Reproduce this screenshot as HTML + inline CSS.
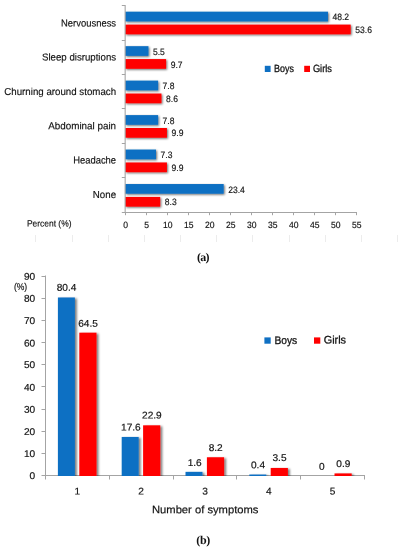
<!DOCTYPE html>
<html lang="en"><head><meta charset="utf-8"><title>Symptoms charts</title>
<style>
html,body{margin:0;padding:0;background:#fff;}
body{width:403px;height:550px;overflow:hidden;}
svg{display:block;font-family:"Liberation Sans",sans-serif;text-rendering:geometricPrecision;}
</style></head><body>
<svg width="403" height="550" viewBox="0 0 403 550">
<defs>
<filter id="sh" x="-5%" y="-30%" width="110%" height="160%"><feGaussianBlur in="SourceAlpha" stdDeviation="0.8"/><feOffset dx="1.2" dy="1.3"/><feComponentTransfer><feFuncA type="linear" slope="0.58"/></feComponentTransfer><feMerge><feMergeNode/><feMergeNode in="SourceGraphic"/></feMerge></filter>
<filter id="sh2" x="-5%" y="-5%" width="110%" height="110%"><feGaussianBlur in="SourceAlpha" stdDeviation="1.0"/><feOffset dx="1.8" dy="0.6"/><feComponentTransfer><feFuncA type="linear" slope="0.5"/></feComponentTransfer><feMerge><feMergeNode/><feMergeNode in="SourceGraphic"/></feMerge></filter>
<clipPath id="cb"><rect x="0" y="270" width="403" height="206"/></clipPath>
</defs>
<rect width="403" height="550" fill="#ffffff"/>
<g filter="url(#sh)">
<rect x="125.30" y="11.70" width="202.68" height="9.70" fill="#0f70c3" />
<rect x="125.30" y="24.60" width="225.39" height="9.70" fill="#ff0000" />
<rect x="125.30" y="46.17" width="23.13" height="9.70" fill="#0f70c3" />
<rect x="125.30" y="59.07" width="40.79" height="9.70" fill="#ff0000" />
<rect x="125.30" y="80.63" width="32.80" height="9.70" fill="#0f70c3" />
<rect x="125.30" y="93.53" width="36.16" height="9.70" fill="#ff0000" />
<rect x="125.30" y="115.10" width="32.80" height="9.70" fill="#0f70c3" />
<rect x="125.30" y="128.00" width="41.63" height="9.70" fill="#ff0000" />
<rect x="125.30" y="149.57" width="30.70" height="9.70" fill="#0f70c3" />
<rect x="125.30" y="162.47" width="41.63" height="9.70" fill="#ff0000" />
<rect x="125.30" y="184.03" width="98.40" height="9.70" fill="#0f70c3" />
<rect x="125.30" y="196.93" width="34.90" height="9.70" fill="#ff0000" />
</g>
<text x="61.06" y="26.40" transform="rotate(0.03 61.06 26.40)" font-size="10.07" textLength="55.04" lengthAdjust="spacingAndGlyphs" fill="#111111" stroke="#111111" stroke-width="0.15">Nervousness</text>
<text x="332.48" y="20.00" transform="rotate(0.03 332.48 20.00)" font-size="9.20" textLength="16.67" lengthAdjust="spacingAndGlyphs" fill="#111111" stroke="#111111" stroke-width="0.15">48.2</text>
<text x="355.29" y="33.00" transform="rotate(0.03 355.29 33.00)" font-size="9.20" textLength="16.67" lengthAdjust="spacingAndGlyphs" fill="#111111" stroke="#111111" stroke-width="0.15">53.6</text>
<text x="42.01" y="60.50" transform="rotate(0.03 42.01 60.50)" font-size="10.07" textLength="74.09" lengthAdjust="spacingAndGlyphs" fill="#111111" stroke="#111111" stroke-width="0.15">Sleep disruptions</text>
<text x="152.93" y="55.00" transform="rotate(0.03 152.93 55.00)" font-size="9.20" textLength="11.90" lengthAdjust="spacingAndGlyphs" fill="#111111" stroke="#111111" stroke-width="0.15">5.5</text>
<text x="170.69" y="68.00" transform="rotate(0.03 170.69 68.00)" font-size="9.20" textLength="11.90" lengthAdjust="spacingAndGlyphs" fill="#111111" stroke="#111111" stroke-width="0.15">9.7</text>
<text x="4.31" y="95.00" transform="rotate(0.03 4.31 95.00)" font-size="10.07" textLength="111.79" lengthAdjust="spacingAndGlyphs" fill="#111111" stroke="#111111" stroke-width="0.15">Churning around stomach</text>
<text x="162.60" y="89.00" transform="rotate(0.03 162.60 89.00)" font-size="9.20" textLength="11.90" lengthAdjust="spacingAndGlyphs" fill="#111111" stroke="#111111" stroke-width="0.15">7.8</text>
<text x="166.06" y="102.00" transform="rotate(0.03 166.06 102.00)" font-size="9.20" textLength="11.90" lengthAdjust="spacingAndGlyphs" fill="#111111" stroke="#111111" stroke-width="0.15">8.6</text>
<text x="48.21" y="129.20" transform="rotate(0.03 48.21 129.20)" font-size="10.07" textLength="67.89" lengthAdjust="spacingAndGlyphs" fill="#111111" stroke="#111111" stroke-width="0.15">Abdominal pain</text>
<text x="162.60" y="124.00" transform="rotate(0.03 162.60 124.00)" font-size="9.20" textLength="11.90" lengthAdjust="spacingAndGlyphs" fill="#111111" stroke="#111111" stroke-width="0.15">7.8</text>
<text x="171.53" y="136.00" transform="rotate(0.03 171.53 136.00)" font-size="9.20" textLength="11.90" lengthAdjust="spacingAndGlyphs" fill="#111111" stroke="#111111" stroke-width="0.15">9.9</text>
<text x="73.17" y="163.50" transform="rotate(0.03 73.17 163.50)" font-size="10.07" textLength="42.93" lengthAdjust="spacingAndGlyphs" fill="#111111" stroke="#111111" stroke-width="0.15">Headache</text>
<text x="160.50" y="158.00" transform="rotate(0.03 160.50 158.00)" font-size="9.20" textLength="11.90" lengthAdjust="spacingAndGlyphs" fill="#111111" stroke="#111111" stroke-width="0.15">7.3</text>
<text x="171.53" y="171.00" transform="rotate(0.03 171.53 171.00)" font-size="9.20" textLength="11.90" lengthAdjust="spacingAndGlyphs" fill="#111111" stroke="#111111" stroke-width="0.15">9.9</text>
<text x="92.82" y="198.00" transform="rotate(0.03 92.82 198.00)" font-size="10.07" textLength="23.28" lengthAdjust="spacingAndGlyphs" fill="#111111" stroke="#111111" stroke-width="0.15">None</text>
<text x="228.20" y="193.00" transform="rotate(0.03 228.20 193.00)" font-size="9.20" textLength="16.67" lengthAdjust="spacingAndGlyphs" fill="#111111" stroke="#111111" stroke-width="0.15">23.4</text>
<text x="164.80" y="205.00" transform="rotate(0.03 164.80 205.00)" font-size="9.20" textLength="11.90" lengthAdjust="spacingAndGlyphs" fill="#111111" stroke="#111111" stroke-width="0.15">8.3</text>
<line x1="125.15" y1="5.10" x2="125.15" y2="212.90" stroke="#9c9c9c" stroke-width="1"/>
<line x1="121.80" y1="5.50" x2="125.20" y2="5.50" stroke="#a4a4a4" stroke-width="1"/>
<line x1="121.80" y1="40.50" x2="125.20" y2="40.50" stroke="#a4a4a4" stroke-width="1"/>
<line x1="121.80" y1="74.50" x2="125.20" y2="74.50" stroke="#a4a4a4" stroke-width="1"/>
<line x1="121.80" y1="108.50" x2="125.20" y2="108.50" stroke="#a4a4a4" stroke-width="1"/>
<line x1="121.80" y1="143.50" x2="125.20" y2="143.50" stroke="#a4a4a4" stroke-width="1"/>
<line x1="121.80" y1="177.50" x2="125.20" y2="177.50" stroke="#a4a4a4" stroke-width="1"/>
<line x1="121.80" y1="212.50" x2="125.20" y2="212.50" stroke="#a4a4a4" stroke-width="1"/>
<line x1="125.00" y1="212.50" x2="357.00" y2="212.50" stroke="#a4a4a4" stroke-width="1"/>
<line x1="125.50" y1="212.00" x2="125.50" y2="215.20" stroke="#a4a4a4" stroke-width="1"/>
<text x="123.22" y="228.00" transform="rotate(0.03 123.22 228.00)" font-size="9.10" textLength="4.76" lengthAdjust="spacingAndGlyphs" fill="#111111" stroke="#111111" stroke-width="0.15">0</text>
<line x1="146.50" y1="212.00" x2="146.50" y2="215.20" stroke="#a4a4a4" stroke-width="1"/>
<text x="144.24" y="228.00" transform="rotate(0.03 144.24 228.00)" font-size="9.10" textLength="4.76" lengthAdjust="spacingAndGlyphs" fill="#111111" stroke="#111111" stroke-width="0.15">5</text>
<line x1="167.50" y1="212.00" x2="167.50" y2="215.20" stroke="#a4a4a4" stroke-width="1"/>
<text x="162.89" y="228.00" transform="rotate(0.03 162.89 228.00)" font-size="9.10" textLength="9.53" lengthAdjust="spacingAndGlyphs" fill="#111111" stroke="#111111" stroke-width="0.15">10</text>
<line x1="188.50" y1="212.00" x2="188.50" y2="215.20" stroke="#a4a4a4" stroke-width="1"/>
<text x="183.91" y="228.00" transform="rotate(0.03 183.91 228.00)" font-size="9.10" textLength="9.53" lengthAdjust="spacingAndGlyphs" fill="#111111" stroke="#111111" stroke-width="0.15">15</text>
<line x1="209.50" y1="212.00" x2="209.50" y2="215.20" stroke="#a4a4a4" stroke-width="1"/>
<text x="204.94" y="228.00" transform="rotate(0.03 204.94 228.00)" font-size="9.10" textLength="9.53" lengthAdjust="spacingAndGlyphs" fill="#111111" stroke="#111111" stroke-width="0.15">20</text>
<line x1="230.50" y1="212.00" x2="230.50" y2="215.20" stroke="#a4a4a4" stroke-width="1"/>
<text x="225.96" y="228.00" transform="rotate(0.03 225.96 228.00)" font-size="9.10" textLength="9.53" lengthAdjust="spacingAndGlyphs" fill="#111111" stroke="#111111" stroke-width="0.15">25</text>
<line x1="251.50" y1="212.00" x2="251.50" y2="215.20" stroke="#a4a4a4" stroke-width="1"/>
<text x="246.99" y="228.00" transform="rotate(0.03 246.99 228.00)" font-size="9.10" textLength="9.53" lengthAdjust="spacingAndGlyphs" fill="#111111" stroke="#111111" stroke-width="0.15">30</text>
<line x1="272.50" y1="212.00" x2="272.50" y2="215.20" stroke="#a4a4a4" stroke-width="1"/>
<text x="268.01" y="228.00" transform="rotate(0.03 268.01 228.00)" font-size="9.10" textLength="9.53" lengthAdjust="spacingAndGlyphs" fill="#111111" stroke="#111111" stroke-width="0.15">35</text>
<line x1="293.50" y1="212.00" x2="293.50" y2="215.20" stroke="#a4a4a4" stroke-width="1"/>
<text x="289.04" y="228.00" transform="rotate(0.03 289.04 228.00)" font-size="9.10" textLength="9.53" lengthAdjust="spacingAndGlyphs" fill="#111111" stroke="#111111" stroke-width="0.15">40</text>
<line x1="314.50" y1="212.00" x2="314.50" y2="215.20" stroke="#a4a4a4" stroke-width="1"/>
<text x="310.06" y="228.00" transform="rotate(0.03 310.06 228.00)" font-size="9.10" textLength="9.53" lengthAdjust="spacingAndGlyphs" fill="#111111" stroke="#111111" stroke-width="0.15">45</text>
<line x1="335.50" y1="212.00" x2="335.50" y2="215.20" stroke="#a4a4a4" stroke-width="1"/>
<text x="331.09" y="228.00" transform="rotate(0.03 331.09 228.00)" font-size="9.10" textLength="9.53" lengthAdjust="spacingAndGlyphs" fill="#111111" stroke="#111111" stroke-width="0.15">50</text>
<line x1="356.50" y1="212.00" x2="356.50" y2="215.20" stroke="#a4a4a4" stroke-width="1"/>
<text x="352.11" y="228.00" transform="rotate(0.03 352.11 228.00)" font-size="9.10" textLength="9.53" lengthAdjust="spacingAndGlyphs" fill="#111111" stroke="#111111" stroke-width="0.15">55</text>
<text x="26.90" y="226.40" transform="rotate(0.03 26.90 226.40)" font-size="9.03" textLength="44.57" lengthAdjust="spacingAndGlyphs" fill="#111111" stroke="#111111" stroke-width="0.15">Percent (%)</text>
<rect x="264.80" y="65.80" width="5.80" height="6.20" fill="#0f70c3" />
<text x="274.10" y="71.80" transform="rotate(0.03 274.10 71.80)" font-size="10.40" textLength="19.90" lengthAdjust="spacingAndGlyphs" fill="#111111" stroke="#111111" stroke-width="0.28">Boys</text>
<rect x="304.20" y="65.80" width="5.80" height="6.20" fill="#ff0000" />
<text x="312.90" y="71.80" transform="rotate(0.03 312.90 71.80)" font-size="10.40" textLength="19.10" lengthAdjust="spacingAndGlyphs" fill="#111111" stroke="#111111" stroke-width="0.28">Girls</text>
<line x1="35.50" y1="235.00" x2="35.50" y2="242.00" stroke="#ececec" stroke-width="1"/>
<line x1="72.50" y1="235.00" x2="72.50" y2="242.00" stroke="#ececec" stroke-width="1"/>
<line x1="108.50" y1="235.00" x2="108.50" y2="242.00" stroke="#ececec" stroke-width="1"/>
<line x1="144.50" y1="235.00" x2="144.50" y2="242.00" stroke="#ececec" stroke-width="1"/>
<line x1="180.50" y1="235.00" x2="180.50" y2="242.00" stroke="#ececec" stroke-width="1"/>
<line x1="216.50" y1="235.00" x2="216.50" y2="242.00" stroke="#ececec" stroke-width="1"/>
<line x1="252.50" y1="235.00" x2="252.50" y2="242.00" stroke="#ececec" stroke-width="1"/>
<line x1="289.50" y1="235.00" x2="289.50" y2="242.00" stroke="#ececec" stroke-width="1"/>
<line x1="325.50" y1="235.00" x2="325.50" y2="242.00" stroke="#ececec" stroke-width="1"/>
<line x1="361.50" y1="235.00" x2="361.50" y2="242.00" stroke="#ececec" stroke-width="1"/>
<line x1="397.50" y1="235.00" x2="397.50" y2="242.00" stroke="#ececec" stroke-width="1"/>
<text x="56.76" y="290.80" transform="rotate(0.03 56.76 290.80)" font-size="9.77" textLength="19.68" lengthAdjust="spacingAndGlyphs" fill="#111111" stroke="#111111" stroke-width="0.18">80.4</text>
<text x="78.26" y="326.80" transform="rotate(0.03 78.26 326.80)" font-size="9.77" textLength="19.68" lengthAdjust="spacingAndGlyphs" fill="#111111" stroke="#111111" stroke-width="0.18">64.5</text>
<text x="74.59" y="494.50" transform="rotate(0.03 74.59 494.50)" font-size="9.77" textLength="5.63" lengthAdjust="spacingAndGlyphs" fill="#111111" stroke="#111111" stroke-width="0.18">1</text>
<text x="121.06" y="430.50" transform="rotate(0.03 121.06 430.50)" font-size="9.77" textLength="19.68" lengthAdjust="spacingAndGlyphs" fill="#111111" stroke="#111111" stroke-width="0.18">17.6</text>
<text x="142.06" y="418.40" transform="rotate(0.03 142.06 418.40)" font-size="9.77" textLength="19.68" lengthAdjust="spacingAndGlyphs" fill="#111111" stroke="#111111" stroke-width="0.18">22.9</text>
<text x="138.39" y="494.50" transform="rotate(0.03 138.39 494.50)" font-size="9.77" textLength="5.63" lengthAdjust="spacingAndGlyphs" fill="#111111" stroke="#111111" stroke-width="0.18">2</text>
<text x="187.67" y="466.00" transform="rotate(0.03 187.67 466.00)" font-size="9.77" textLength="14.05" lengthAdjust="spacingAndGlyphs" fill="#111111" stroke="#111111" stroke-width="0.18">1.6</text>
<text x="208.67" y="451.00" transform="rotate(0.03 208.67 451.00)" font-size="9.77" textLength="14.05" lengthAdjust="spacingAndGlyphs" fill="#111111" stroke="#111111" stroke-width="0.18">8.2</text>
<text x="202.19" y="494.50" transform="rotate(0.03 202.19 494.50)" font-size="9.77" textLength="5.63" lengthAdjust="spacingAndGlyphs" fill="#111111" stroke="#111111" stroke-width="0.18">3</text>
<text x="250.97" y="468.20" transform="rotate(0.03 250.97 468.20)" font-size="9.77" textLength="14.05" lengthAdjust="spacingAndGlyphs" fill="#111111" stroke="#111111" stroke-width="0.18">0.4</text>
<text x="272.47" y="461.00" transform="rotate(0.03 272.47 461.00)" font-size="9.77" textLength="14.05" lengthAdjust="spacingAndGlyphs" fill="#111111" stroke="#111111" stroke-width="0.18">3.5</text>
<text x="265.99" y="494.50" transform="rotate(0.03 265.99 494.50)" font-size="9.77" textLength="5.63" lengthAdjust="spacingAndGlyphs" fill="#111111" stroke="#111111" stroke-width="0.18">4</text>
<text x="318.99" y="469.80" transform="rotate(0.03 318.99 469.80)" font-size="9.77" textLength="5.63" lengthAdjust="spacingAndGlyphs" fill="#111111" stroke="#111111" stroke-width="0.18">0</text>
<text x="336.27" y="467.00" transform="rotate(0.03 336.27 467.00)" font-size="9.77" textLength="14.05" lengthAdjust="spacingAndGlyphs" fill="#111111" stroke="#111111" stroke-width="0.18">0.9</text>
<text x="329.79" y="494.50" transform="rotate(0.03 329.79 494.50)" font-size="9.77" textLength="5.63" lengthAdjust="spacingAndGlyphs" fill="#111111" stroke="#111111" stroke-width="0.18">5</text>
<line x1="45.50" y1="275.50" x2="45.50" y2="476.00" stroke="#a4a4a4" stroke-width="1"/>
<line x1="41.50" y1="475.50" x2="45.50" y2="475.50" stroke="#a4a4a4" stroke-width="1"/>
<text x="29.57" y="479.00" transform="rotate(0.03 29.57 479.00)" font-size="9.77" textLength="5.63" lengthAdjust="spacingAndGlyphs" fill="#111111" stroke="#111111" stroke-width="0.18">0</text>
<line x1="41.50" y1="453.50" x2="45.50" y2="453.50" stroke="#a4a4a4" stroke-width="1"/>
<text x="23.95" y="457.00" transform="rotate(0.03 23.95 457.00)" font-size="9.77" textLength="11.25" lengthAdjust="spacingAndGlyphs" fill="#111111" stroke="#111111" stroke-width="0.18">10</text>
<line x1="41.50" y1="431.50" x2="45.50" y2="431.50" stroke="#a4a4a4" stroke-width="1"/>
<text x="23.95" y="435.00" transform="rotate(0.03 23.95 435.00)" font-size="9.77" textLength="11.25" lengthAdjust="spacingAndGlyphs" fill="#111111" stroke="#111111" stroke-width="0.18">20</text>
<line x1="41.50" y1="409.50" x2="45.50" y2="409.50" stroke="#a4a4a4" stroke-width="1"/>
<text x="23.95" y="412.70" transform="rotate(0.03 23.95 412.70)" font-size="9.77" textLength="11.25" lengthAdjust="spacingAndGlyphs" fill="#111111" stroke="#111111" stroke-width="0.18">30</text>
<line x1="41.50" y1="386.50" x2="45.50" y2="386.50" stroke="#a4a4a4" stroke-width="1"/>
<text x="23.95" y="390.80" transform="rotate(0.03 23.95 390.80)" font-size="9.77" textLength="11.25" lengthAdjust="spacingAndGlyphs" fill="#111111" stroke="#111111" stroke-width="0.18">40</text>
<line x1="41.50" y1="364.50" x2="45.50" y2="364.50" stroke="#a4a4a4" stroke-width="1"/>
<text x="23.95" y="368.00" transform="rotate(0.03 23.95 368.00)" font-size="9.77" textLength="11.25" lengthAdjust="spacingAndGlyphs" fill="#111111" stroke="#111111" stroke-width="0.18">50</text>
<line x1="41.50" y1="342.50" x2="45.50" y2="342.50" stroke="#a4a4a4" stroke-width="1"/>
<text x="23.95" y="346.40" transform="rotate(0.03 23.95 346.40)" font-size="9.77" textLength="11.25" lengthAdjust="spacingAndGlyphs" fill="#111111" stroke="#111111" stroke-width="0.18">60</text>
<line x1="41.50" y1="320.50" x2="45.50" y2="320.50" stroke="#a4a4a4" stroke-width="1"/>
<text x="23.95" y="324.00" transform="rotate(0.03 23.95 324.00)" font-size="9.77" textLength="11.25" lengthAdjust="spacingAndGlyphs" fill="#111111" stroke="#111111" stroke-width="0.18">70</text>
<line x1="41.50" y1="298.50" x2="45.50" y2="298.50" stroke="#a4a4a4" stroke-width="1"/>
<text x="23.95" y="301.70" transform="rotate(0.03 23.95 301.70)" font-size="9.77" textLength="11.25" lengthAdjust="spacingAndGlyphs" fill="#111111" stroke="#111111" stroke-width="0.18">80</text>
<line x1="41.50" y1="276.50" x2="45.50" y2="276.50" stroke="#a4a4a4" stroke-width="1"/>
<text x="23.95" y="279.70" transform="rotate(0.03 23.95 279.70)" font-size="9.77" textLength="11.25" lengthAdjust="spacingAndGlyphs" fill="#111111" stroke="#111111" stroke-width="0.18">90</text>
<line x1="45.00" y1="475.50" x2="365.00" y2="475.50" stroke="#a4a4a4" stroke-width="1"/>
<line x1="45.50" y1="475.00" x2="45.50" y2="479.50" stroke="#a4a4a4" stroke-width="1"/>
<line x1="109.50" y1="475.00" x2="109.50" y2="479.50" stroke="#a4a4a4" stroke-width="1"/>
<line x1="173.50" y1="475.00" x2="173.50" y2="479.50" stroke="#a4a4a4" stroke-width="1"/>
<line x1="236.50" y1="475.00" x2="236.50" y2="479.50" stroke="#a4a4a4" stroke-width="1"/>
<line x1="300.50" y1="475.00" x2="300.50" y2="479.50" stroke="#a4a4a4" stroke-width="1"/>
<line x1="364.50" y1="475.00" x2="364.50" y2="479.50" stroke="#a4a4a4" stroke-width="1"/>
<g clip-path="url(#cb)"><g filter="url(#sh2)">
<rect x="57.90" y="297.47" width="17.00" height="178.53" fill="#0f70c3" />
<rect x="79.30" y="332.66" width="17.20" height="143.34" fill="#ff0000" />
<rect x="121.70" y="436.95" width="17.00" height="39.05" fill="#0f70c3" />
<rect x="143.10" y="425.32" width="17.20" height="50.68" fill="#ff0000" />
<rect x="185.50" y="471.86" width="17.00" height="4.14" fill="#0f70c3" />
<rect x="206.90" y="457.25" width="17.20" height="18.75" fill="#ff0000" />
<rect x="249.30" y="474.51" width="17.00" height="1.49" fill="#0f70c3" />
<rect x="270.70" y="467.95" width="17.20" height="8.05" fill="#ff0000" />
<rect x="334.50" y="473.41" width="17.20" height="2.59" fill="#ff0000" />
</g></g>
<text x="13.90" y="290.20" transform="rotate(0.03 13.90 290.20)" font-size="9.80" textLength="13.30" lengthAdjust="spacingAndGlyphs" fill="#111111" stroke="#111111" stroke-width="0.18">(%)</text>
<text x="152.00" y="513.20" transform="rotate(0.03 152.00 513.20)" font-size="10.80" textLength="106.40" lengthAdjust="spacingAndGlyphs" fill="#111111" stroke="#111111" stroke-width="0.18">Number of symptoms</text>
<rect x="264.40" y="337.40" width="6.30" height="6.30" fill="#0f70c3" />
<text x="274.40" y="343.60" transform="rotate(0.03 274.40 343.60)" font-size="11.00" textLength="22.80" lengthAdjust="spacingAndGlyphs" fill="#111111" stroke="#111111" stroke-width="0.28">Boys</text>
<rect x="314.00" y="337.40" width="6.30" height="6.30" fill="#ff0000" />
<text x="323.70" y="343.60" transform="rotate(0.03 323.70 343.60)" font-size="11.00" textLength="22.30" lengthAdjust="spacingAndGlyphs" fill="#111111" stroke="#111111" stroke-width="0.28">Girls</text>
<text x="197.0" y="260.8" font-family="'Liberation Serif', serif" font-weight="bold" font-size="12" textLength="12.4" lengthAdjust="spacing" fill="#111">(a)</text>
<text x="196.3" y="543.8" font-family="'Liberation Serif', serif" font-weight="bold" font-size="12" textLength="14" lengthAdjust="spacing" fill="#111">(b)</text>
</svg>
</body></html>
